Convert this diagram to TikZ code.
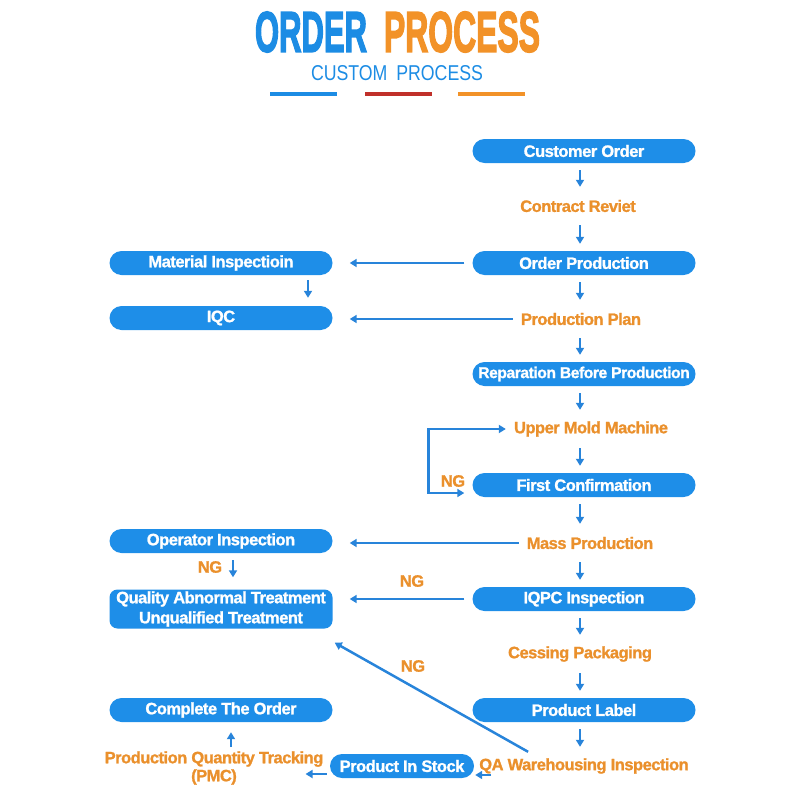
\documentclass[tikz,border=0pt]{standalone}
\usepackage{fontspec}
\usepackage{graphicx}
\setmainfont{Liberation Sans}[BoldFeatures={FakeBold=1.2,LetterSpace=-3}]
\newfontfamily\titlefont{Liberation Sans}[BoldFeatures={FakeBold=3}]
\usetikzlibrary{arrows.meta,calc}
\definecolor{bb}{RGB}{30,142,232}
\definecolor{ab}{RGB}{40,132,218}
\definecolor{og}{RGB}{234,144,44}
\definecolor{tb}{RGB}{28,140,228}
\definecolor{to}{RGB}{242,146,40}
\definecolor{rd}{RGB}{192,48,42}
\begin{document}
\begin{tikzpicture}[x=1pt,y=-1pt,
 box/.style={fill=bb, rounded corners=12pt, minimum width=223pt, minimum height=24pt, inner sep=0pt, text=white, font=\fontsize{16.5}{20}\selectfont\bfseries},
 otext/.style={text=og, inner sep=0pt, minimum height=24pt, font=\fontsize{16.5}{18}\selectfont\bfseries},
 arr/.style={draw=ab, line width=2.5pt, -{Triangle[length=7pt,width=8pt]}},
 varr/.style={arr, shorten <=7pt, shorten >=7pt},
 harr/.style={arr, shorten <=8pt, shorten >=17pt},
]
\useasboundingbox (0,0) rectangle (800,800);
% title
\node[inner sep=0pt, text=tb] (t1) at (311,32) {\resizebox{112pt}{40pt}{\titlefont\bfseries ORDER}};
\node[inner sep=0pt, text=to] (t2) at (462,32) {\resizebox{156pt}{40pt}{\titlefont\bfseries PROCESS}};
\node[inner sep=0pt, text=tb] (t3) at (397,73) {\resizebox{172pt}{15pt}{CUSTOM\hspace{0.5em}PROCESS}};
\draw[tb, line width=4pt] (270,94) -- (337,94);
\draw[rd, line width=4pt] (365,94) -- (432,94);
\draw[to, line width=4pt] (458,94) -- (525,94);
% right column
\coordinate (ax) at (580,0);
\node[box] (co) at (584,151) {Customer Order};
\node[otext] (cr) at (578,206) {Contract Reviet};
\node[box] (op) at (584,263) {Order Production};
\node[otext] (pp) at (581,319) {Production Plan};
\node[box, font=\fontsize{15.7}{20}\selectfont\bfseries] (rbp) at (584,374) {Reparation Before Production};
\node[otext] (umm) at (591,429) {Upper Mold Machine};
\node[box] (fc) at (584,485) {First Confirmation};
\node[otext] (mp) at (590,543) {Mass Production};
\node[box] (iqpc) at (584,599) {IQPC Inspection};
\node[otext] (cp) at (580,654) {Cessing Packaging};
\node[box] (pl) at (584,710) {Product Label};
\node[otext] (qa) at (584,766) {QA Warehousing Inspection};
% left column
\node[box] (mi) at (221,263) {Material Inspectioin};
\node[box] (iqc) at (221,318) {IQC};
\node[box] (oi) at (221,541) {Operator Inspection};
\node[box, rounded corners=8pt, minimum height=39pt, align=center] (qat) at (221,609) {Quality Abnormal Treatment\\Unqualified Treatment};
\node[box] (cto) at (221,710) {Complete The Order};
\node[otext, align=center, font=\fontsize{16.5}{18}\selectfont\bfseries] (pmc) at (214,768) {Production Quantity Tracking\\(PMC)};
\node[box, minimum width=144pt] (pis) at (402,766) {Product In Stock};
% NG labels
\node[otext] (ng1) at (453,481) {NG};
\node[otext] (ng2) at (210,567) {NG};
\node[otext] (ng3) at (412,581) {NG};
\node[otext] (ng4) at (413,666) {NG};
% vertical arrows right
\draw[varr] (co.south -| ax) -- (cr.north -| ax);
\draw[varr] (cr.south -| ax) -- (op.north -| ax);
\draw[varr] (op.south -| ax) -- (pp.north -| ax);
\draw[varr] (pp.south -| ax) -- (rbp.north -| ax);
\draw[varr] (rbp.south -| ax) -- (umm.north -| ax);
\draw[varr] (umm.south -| ax) -- (fc.north -| ax);
\draw[varr] (fc.south -| ax) -- (mp.north -| ax);
\draw[varr] (mp.south -| ax) -- (iqpc.north -| ax);
\draw[varr] (iqpc.south -| ax) -- (cp.north -| ax);
\draw[varr] (cp.south -| ax) -- (pl.north -| ax);
\draw[varr] (pl.south -| ax) -- (qa.north -| ax);
% horizontal arrows
\draw[harr] (op.west) -- (mi.east);
\draw[harr] (pp.west) -- (pp.west -| iqc.east);
\draw[harr] (mp.west) -- (mp.west -| oi.east);
\draw[harr] (iqpc.west) -- (iqpc.west -| qat.east);
% left verticals
\draw[arr, shorten <=5pt, shorten >=8pt] ([xshift=87pt]mi.south) -- ([xshift=87pt]iqc.north);
\draw[arr, shorten <=7pt, shorten >=12pt] ([xshift=12pt]oi.south) -- ([xshift=12pt]oi.south |- qat.north);
\draw[arr, shorten <=4pt, shorten >=10pt] ([xshift=17pt]pmc.north) -- ([xshift=10pt]cto.south);
% NG loop
\draw[draw=ab, line width=2.5pt, {Triangle[length=7pt,width=8pt]}-{Triangle[length=7pt,width=8pt]}] ([shift={(-8,8)}]fc.west) -- ++(-36,0) |- ([xshift=-8pt]umm.west);
% diagonal
\draw[arr] ([shift={(49,-2)}]qa.north west) -- ([shift={(2,14)}]qat.south east);
% bottom small arrows
\draw[arr, shorten >=1pt] ([shift={(12,9)}]qa.west) -- ([shift={(0,9)}]pis.east);
\draw[arr] ([shift={(-3,8)}]pis.west) -- ([shift={(-18,6)}]pmc.east);
\end{tikzpicture}
\end{document}
